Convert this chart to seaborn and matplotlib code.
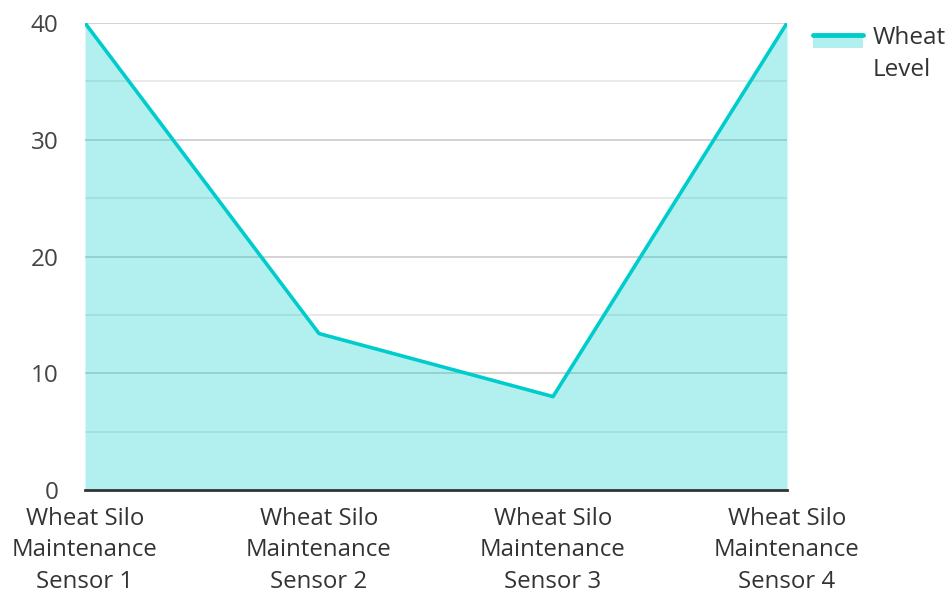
import matplotlib
matplotlib.use("Agg")
import matplotlib.pyplot as plt
from matplotlib.lines import Line2D
from matplotlib.patches import Patch, Rectangle
from matplotlib.legend_handler import HandlerBase
import seaborn as sns
import pandas as pd

# dati
sensori = ["Wheat Silo\nMaintenance\nSensor 1", "Wheat Silo\nMaintenance\nSensor 2",
           "Wheat Silo\nMaintenance\nSensor 3", "Wheat Silo\nMaintenance\nSensor 4"]
livello = [40, 13.4, 8.0, 40]
serie = "Wheat\nLevel"

linea_col = "#00cccc"


class AreaHandler(HandlerBase):
    # linea sopra, area sotto (come nella legenda originale), allineata alla prima riga
    def create_artists(self, legend, orig, xd, yd, w, h, fontsize, trans):
        hh = h * 0.75
        ym = yd + hh + 10.8
        r = Rectangle((xd, ym - hh), w, hh, facecolor=linea_col, alpha=0.3,
                      edgecolor="none", transform=trans)
        l = Line2D([xd, xd + w], [ym, ym], color=linea_col, lw=3.5, transform=trans)
        return [r, l]


sns.set_theme(style="white")
plt.rcParams['font.family'] = ['Open Sans', 'DejaVu Sans']

df = pd.DataFrame({"pos": range(len(sensori)), "livello": livello})

fig = plt.figure(figsize=(9.5, 5.94), dpi=100)
ax = fig.add_axes([85 / 950, 1 - 490 / 594, (787 - 85) / 950, (490 - 23) / 594])

# griglia: principale ogni 10, secondaria ogni 5
for v in range(5, 41, 5):
    c = "#cccccc" if v % 10 == 0 else "#e6e6e6"
    ax.axhline(v, color=c, lw=1.2, zorder=0)

ax.fill_between(df["pos"], 0, df["livello"], color=linea_col, alpha=0.3, lw=0, zorder=1)
sns.lineplot(data=df, x="pos", y="livello", color=linea_col, lw=2.6, ax=ax, zorder=3)

ax.set_xlim(0, 3)
ax.set_ylim(0, 40)
ax.set_xticks(range(len(sensori)))
ax.set_xticklabels(sensori, fontsize=17.3, color="#333333", linespacing=1.42)
ax.set_yticks([0, 10, 20, 30, 40])
ax.set_yticklabels(["0", "10", "20", "30", "40"], fontsize=17.5, color="#444444")
ax.tick_params(axis="y", length=0, pad=19)
ax.tick_params(axis="x", length=0, pad=12)
ax.set_xlabel("")
ax.set_ylabel("")

for s in ["top", "right", "left"]:
    ax.spines[s].set_visible(False)
ax.spines["bottom"].set_color("#333333")
ax.spines["bottom"].set_linewidth(2)
ax.spines["bottom"].set_zorder(4)

leg = ax.legend([Patch()], [serie], handler_map={Patch: AreaHandler()},
                loc="upper left", bbox_to_anchor=(1.030, 1.003), frameon=False,
                fontsize=17.5, labelcolor="#333333", handlelength=2.06, handletextpad=0.41,
                borderaxespad=0, borderpad=0.2)
for t in leg.get_texts():
    t.set_linespacing(1.42)

fig.savefig("out.png", dpi=100)
